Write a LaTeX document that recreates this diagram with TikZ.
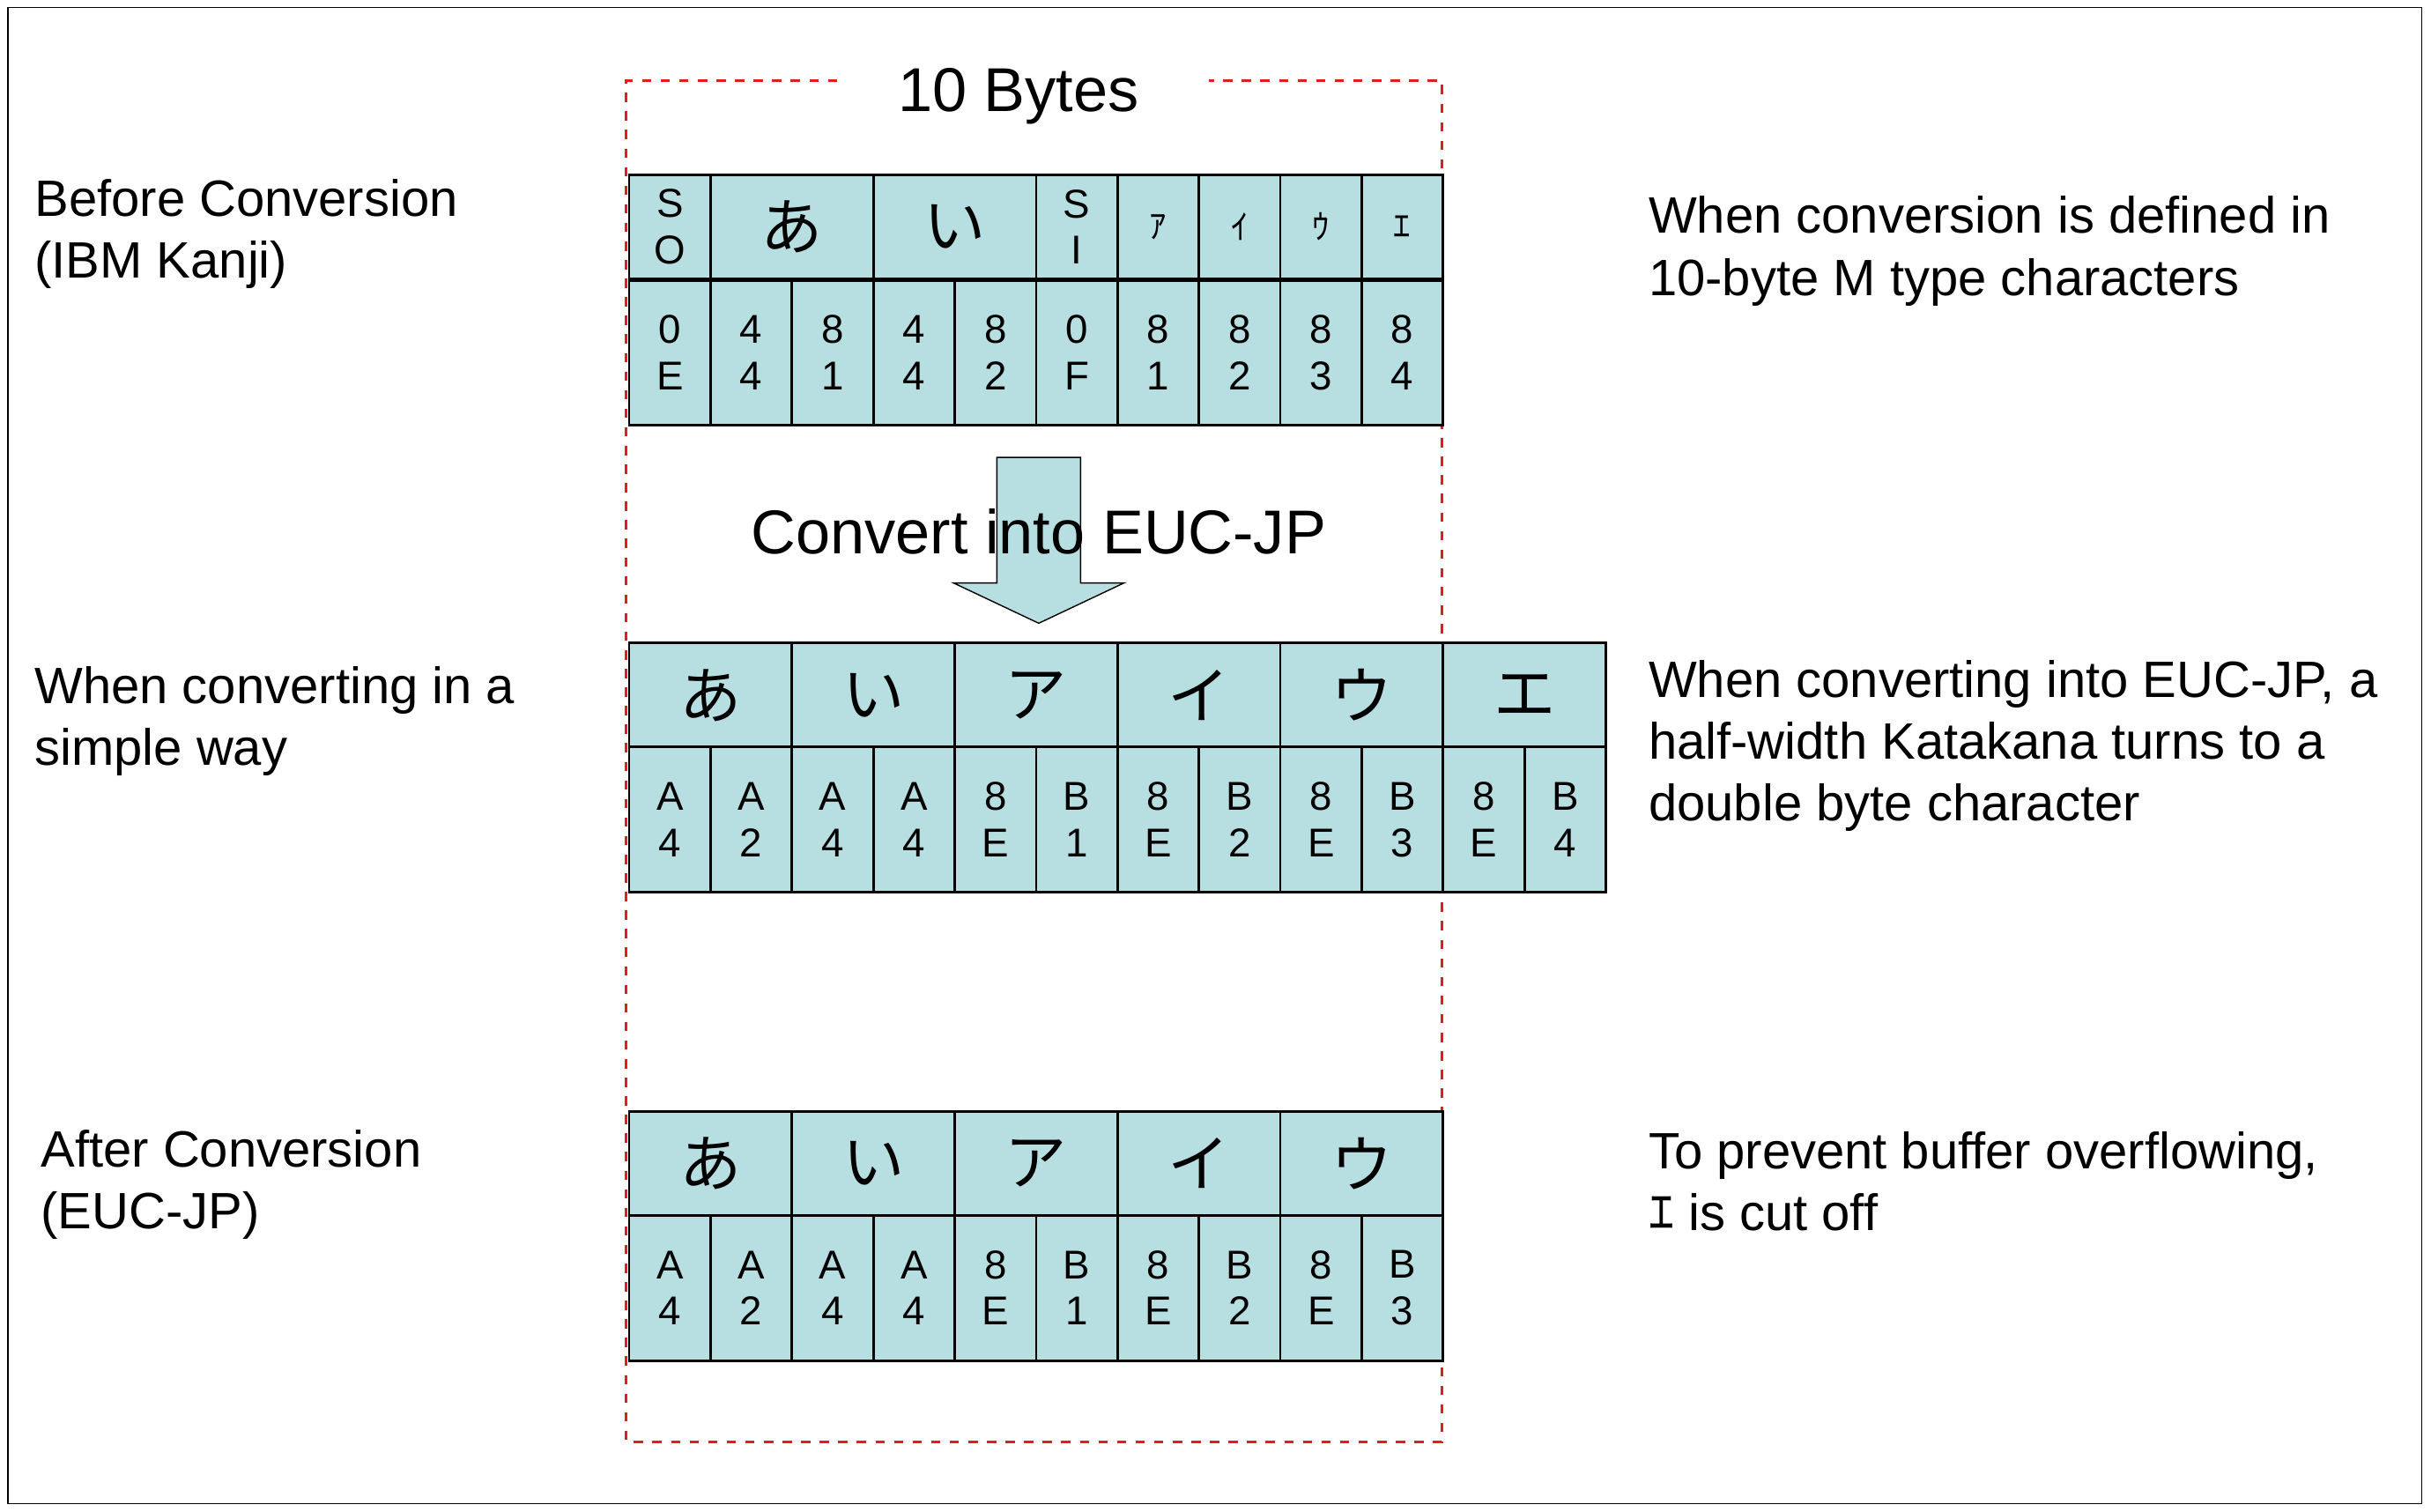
\documentclass[tikz,border=0pt]{standalone}
\usepackage{fontspec}
\setmainfont{Liberation Sans}
\newfontfamily\cjk{Noto Sans CJK JP}
\usetikzlibrary{positioning}
\definecolor{cellblue}{RGB}{183,222,225}
\definecolor{dashred}{RGB}{225,30,30}

\tikzset{
  cell/.style={draw=black, thick, fill=cellblue, inner sep=0pt, anchor=north west},
  label/.style={anchor=west, align=left, font=\fontsize{16.5}{20}\selectfont, inner sep=0pt},
  byte/.style={align=center, font=\fontsize{13}{15}\selectfont},
  bigchar/.style={font=\cjk\fontsize{20}{22}\selectfont},
  smallchar/.style={font=\cjk\fontsize{11}{13}\selectfont}
}

\begin{document}
\begin{tikzpicture}[x=0.0176cm, y=-0.0176cm]
    \useasboundingbox (0,0) rectangle (1568,975);
    \draw (5,5) rectangle (1562,970); % Frame

    % 10 byte limit
    \draw[dashred, thick, dashed] (540,52) -- (404,52) -- (404,930) -- (930,930) -- (930,52) -- (780,52);
    \node[font=\fontsize{20}{23}\selectfont] (limit) at (657,62) {10 Bytes};

    % Before conversion
    \foreach \s/\w/\n in {0/1/so, 1/2/a, 3/2/i, 5/1/si, 6/1/ka, 7/1/kb, 8/1/kc, 9/1/kd}
        \node[cell, minimum width={\w*0.924cm}, minimum height=1.18cm] (r1\n) at ({405+52.5*\s},112) {};
    \node[byte] at (r1so) {S\\O};
    \node[byte] at (r1si) {S\\I};
    \node[bigchar] at (r1a) {あ};
    \node[bigchar] at (r1i) {い};
    \node[smallchar] at (r1ka) {ｱ};
    \node[smallchar] at (r1kb) {ｲ};
    \node[smallchar] at (r1kc) {ｳ};
    \node[smallchar] at (r1kd) {ｴ};
    \foreach \p/\q [count=\i] in {0/E,4/4,8/1,4/4,8/2,0/F,8/1,8/2,8/3,8/4}
        \node[cell, minimum width=0.924cm, minimum height=1.64cm, byte] (r1b\i) at ({405+52.5*(\i-1)},180) {\p\\\q};

    % Arrow
    \draw[fill=cellblue] (643,295) -- (697,295) -- (697,376) -- (725,376) -- (670,402)
        -- (615,376) -- (643,376) -- cycle;
    \node[font=\fontsize{20}{23}\selectfont] (conv) at (670,343) {Convert into EUC-JP};

    % Simple conversion
    \foreach \t [count=\i] in {あ,い,ア,イ,ウ,エ}
        \node[cell, bigchar, minimum width=1.848cm, minimum height=1.18cm] (r2c\i) at ({405+105*(\i-1)},414) {\t};
    \foreach \p/\q [count=\i] in {A/4,A/2,A/4,A/4,8/E,B/1,8/E,B/2,8/E,B/3,8/E,B/4}
        \node[cell, minimum width=0.924cm, minimum height=1.65cm, byte] (r2b\i) at ({405+52.5*(\i-1)},481) {\p\\\q};

    % After conversion
    \foreach \t [count=\i] in {あ,い,ア,イ,ウ}
        \node[cell, bigchar, minimum width=1.848cm, minimum height=1.18cm] (r3c\i) at ({405+105*(\i-1)},716) {\t};
    \foreach \p/\q [count=\i] in {A/4,A/2,A/4,A/4,8/E,B/1,8/E,B/2,8/E,B/3}
        \node[cell, minimum width=0.924cm, minimum height=1.65cm, byte] (r3b\i) at ({405+52.5*(\i-1)},783) {\p\\\q};

    % Left labels
    \node[label] (before) at (22,151) {Before Conversion\\(IBM Kanji)};
    \node[label] (simple) at (22,465) {When converting in a\\simple way};
    \node[label] (after) at (26,764) {After Conversion\\(EUC-JP)};

    % Right labels
    \node[label] (note1) at (1063,162) {When conversion is defined in\\10-byte M type characters};
    \node[label] (note2) at (1063,481) {When converting into EUC-JP, a\\half-width Katakana turns to a\\double byte character};
    \node[label] (note3) at (1063,762) {To prevent buffer overflowing,\\{\cjk ｴ} is cut off};
\end{tikzpicture}
\end{document}
